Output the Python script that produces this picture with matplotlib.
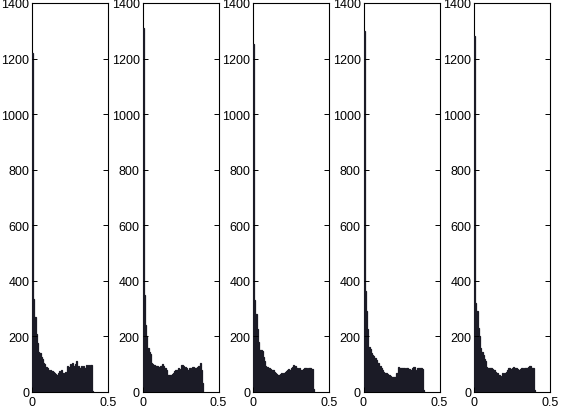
import numpy as np
import matplotlib
matplotlib.use("Agg")
import matplotlib.pyplot as plt

plt.rcParams['font.family'] = ['Liberation Sans', 'DejaVu Sans']

bin_edges = np.linspace(0, 0.4, 51)

counts_1 = [1220, 335, 270, 210, 175, 145, 140, 125, 120, 105,
            100, 90, 85, 80, 75, 80, 75, 72, 68, 65,
            60, 70, 75, 72, 78, 70, 65, 72, 70, 95,
            90, 100, 85, 105, 95, 100, 112, 90, 95, 85,
            95, 88, 92, 85, 98, 90, 96, 92, 98, 5]
counts_2 = [1311, 348, 240, 200, 160, 145, 138, 105, 100, 98,
            95, 92, 95, 90, 95, 92, 100, 95, 85, 78,
            62, 60, 62, 60, 66, 70, 75, 80, 78, 85,
            82, 73, 97, 92, 85, 90, 87, 80, 85, 88,
            82, 91, 86, 88, 85, 90, 95, 103, 80, 34]
counts_3 = [1251, 330, 280, 225, 180, 152, 150, 148, 125, 110,
            95, 90, 86, 85, 82, 80, 78, 72, 68, 66,
            62, 60, 63, 67, 65, 70, 73, 75, 79, 82,
            80, 88, 91, 97, 94, 87, 85, 84, 85, 80,
            79, 82, 85, 86, 84, 87, 85, 86, 84, 10]
counts_4 = [1299, 363, 290, 225, 162, 155, 140, 133, 130, 121,
            115, 105, 103, 92, 85, 80, 73, 70, 67, 65,
            62, 60, 58, 55, 54, 54, 55, 67, 91, 88,
            87, 85, 88, 86, 84, 87, 85, 82, 79, 80,
            85, 91, 73, 80, 87, 86, 88, 87, 84, 8]
counts_5 = [1280, 322, 290, 230, 200, 160, 145, 133, 120, 110,
            91, 88, 85, 85, 86, 84, 78, 73, 70, 67,
            62, 54, 58, 67, 66, 70, 73, 80, 87, 85,
            82, 85, 91, 88, 85, 82, 79, 78, 82, 85,
            83, 87, 86, 88, 90, 94, 92, 85, 88, 6]

all_counts = [counts_1, counts_2, counts_3, counts_4, counts_5]
x_ticks = [0, 0.5]
x_tick_labels = ['0', '0.5']
y_ticks = [0, 200, 400, 600, 800, 1000, 1200, 1400]

W, H = 561, 410
fig = plt.figure(figsize=(W / 100, H / 100), dpi=100)
lefts_px = [32, 142.5, 253, 363.5, 474]
ax_w_px = 76
bottom_px = 17
ax_h_px = 389

bar_color = '#1b1b26'
for left, counts in zip(lefts_px, all_counts):
    ax = fig.add_axes([left / W, bottom_px / H, ax_w_px / W, ax_h_px / H])
    ax.bar(bin_edges[:-1], counts, width=np.diff(bin_edges), align='edge',
           color=bar_color, edgecolor=bar_color, linewidth=0.9)
    ax.set_xlim(0, 0.5)
    ax.set_ylim(0, 1400)
    ax.set_xticks(x_ticks)
    ax.set_xticklabels(x_tick_labels)
    ax.set_yticks(y_ticks)
    ax.tick_params(direction='in', length=3.5, width=0.7, labelsize=9,
                   right=True, top=True, pad=2, colors='black')
    ax.tick_params(axis='x', pad=3)
    for s in ax.spines.values():
        s.set_linewidth(0.8)
        s.set_zorder(0.5)

fig.savefig('out.png', dpi=100)
